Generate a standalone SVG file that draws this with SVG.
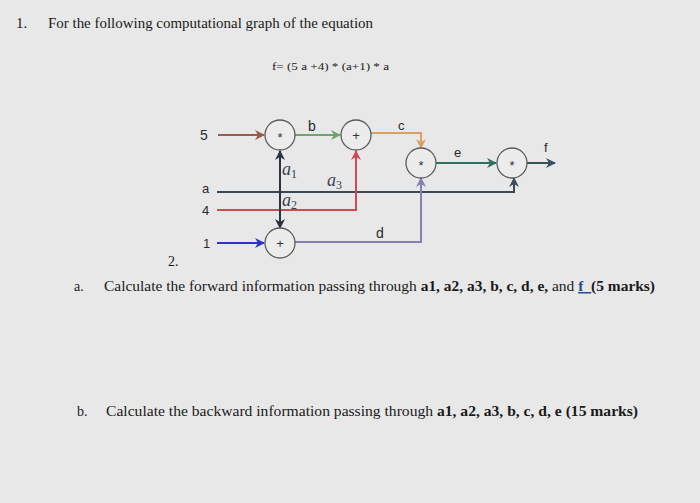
<svg xmlns="http://www.w3.org/2000/svg" width="700" height="503" viewBox="0 0 700 503">
<defs>
<style>
.serif{font-family:"Liberation Serif","Times New Roman",serif;fill:#1a1a1a}
.sans{font-family:"Liberation Sans",Arial,sans-serif;fill:#2a2a2a}
.node{fill:#ececec;stroke:#5a5a5a;stroke-width:1.3}
.op{font-family:"Liberation Sans",Arial,sans-serif;font-size:13px;fill:#333;text-anchor:middle}
.ln{fill:none;stroke-width:2}
.math{font-family:"Liberation Serif","Times New Roman",serif;font-style:italic;font-size:18px;fill:#3a4150}
.sub{font-family:"Liberation Serif","Times New Roman",serif;font-style:normal;font-size:12px;fill:#3a4150}
</style>
<marker id="mBrown" viewBox="0 0 10 10" refX="9" refY="5" markerWidth="10" markerHeight="10" markerUnits="userSpaceOnUse" orient="auto"><path d="M0,0 L10,5 L0,10 L3,5 z" fill="#9a5a4a"/></marker>
<marker id="mGreen" viewBox="0 0 10 10" refX="9" refY="5" markerWidth="10" markerHeight="10" markerUnits="userSpaceOnUse" orient="auto"><path d="M0,0 L10,5 L0,10 L3,5 z" fill="#6aa86a"/></marker>
<marker id="mOrange" viewBox="0 0 10 10" refX="9" refY="5" markerWidth="10" markerHeight="10" markerUnits="userSpaceOnUse" orient="auto"><path d="M0,0 L10,5 L0,10 L3,5 z" fill="#d9a066"/></marker>
<marker id="mTeal" viewBox="0 0 10 10" refX="9" refY="5" markerWidth="10" markerHeight="10" markerUnits="userSpaceOnUse" orient="auto"><path d="M0,0 L10,5 L0,10 L3,5 z" fill="#2f6f60"/></marker>
<marker id="mSlate" viewBox="0 0 10 10" refX="9" refY="5" markerWidth="10" markerHeight="10" markerUnits="userSpaceOnUse" orient="auto"><path d="M0,0 L10,5 L0,10 L3,5 z" fill="#34505e"/></marker>
<marker id="mRed" viewBox="0 0 10 10" refX="9" refY="5" markerWidth="10" markerHeight="10" markerUnits="userSpaceOnUse" orient="auto"><path d="M0,0 L10,5 L0,10 L3,5 z" fill="#d04a55"/></marker>
<marker id="mBlue" viewBox="0 0 10 10" refX="9" refY="5" markerWidth="10" markerHeight="10" markerUnits="userSpaceOnUse" orient="auto"><path d="M0,0 L10,5 L0,10 L3,5 z" fill="#2a35c8"/></marker>
<marker id="mPurple" viewBox="0 0 10 10" refX="9" refY="5" markerWidth="10" markerHeight="10" markerUnits="userSpaceOnUse" orient="auto"><path d="M0,0 L10,5 L0,10 L3,5 z" fill="#8a80b0"/></marker>
<marker id="mDark" viewBox="0 0 10 10" refX="9" refY="5" markerWidth="10" markerHeight="10" markerUnits="userSpaceOnUse" orient="auto-start-reverse"><path d="M0,0 L10,5 L0,10 L3,5 z" fill="#2a3440"/></marker>
</defs>
<rect width="700" height="503" fill="#e8e8e8"/>

<text class="serif" x="16" y="28" font-size="15">1.</text>
<text class="serif" x="48" y="28" font-size="15" textLength="325" lengthAdjust="spacingAndGlyphs">For the following computational graph of the equation</text>
<text class="serif" x="272" y="70" font-size="10" textLength="117" lengthAdjust="spacingAndGlyphs">f= (5 a +4) * (a+1) * a</text>

<g id="connectors">
<line class="ln" x1="218" y1="135" x2="264" y2="135" stroke="#9a5a4a" marker-end="url(#mBrown)"/>
<line class="ln" x1="295" y1="135" x2="340" y2="135" stroke="#6aa86a" marker-end="url(#mGreen)"/>
<path class="ln" d="M371,133 H421 V148" stroke="#d9a066" marker-end="url(#mOrange)"/>
<line class="ln" x1="436" y1="163" x2="496" y2="163" stroke="#2f6f60" marker-end="url(#mTeal)"/>
<line class="ln" x1="527" y1="163" x2="555" y2="163" stroke="#34505e" marker-end="url(#mSlate)"/>
<path class="ln" d="M217,192 H514 V178" stroke="#3a4858" marker-end="url(#mSlate)"/>
<path class="ln" d="M217,210 H356 V151" stroke="#d04a55" marker-end="url(#mRed)"/>
<line class="ln" x1="217" y1="243" x2="264" y2="243" stroke="#2a35c8" marker-end="url(#mBlue)"/>
<path class="ln" d="M295,242 H421 V178" stroke="#8a80b0" marker-end="url(#mPurple)"/>
<line class="ln" x1="280" y1="151" x2="280" y2="228" stroke="#2a3440" marker-start="url(#mDark)" marker-end="url(#mDark)"/>
</g>

<g id="labels">
<text class="sans" x="200" y="140" font-size="14">5</text>
<text class="sans" x="202" y="193" font-size="13">a</text>
<text class="sans" x="202" y="215" font-size="13">4</text>
<text class="sans" x="203" y="248" font-size="13">1</text>
<text class="sans" x="308" y="131" font-size="14">b</text>
<text class="sans" x="398" y="130" font-size="13">c</text>
<text class="sans" x="454" y="157" font-size="13">e</text>
<text class="sans" x="544" y="152" font-size="13">f</text>
<text class="sans" x="376" y="238" font-size="14">d</text>
<text class="math" x="282" y="175">a<tspan class="sub" dy="3">1</tspan></text>
<text class="math" x="282" y="206">a<tspan class="sub" dy="3">2</tspan></text>
<text class="math" x="327" y="186">a<tspan class="sub" dy="3">3</tspan></text>
</g>

<g id="node-mul1"><circle class="node" cx="280" cy="135" r="15"/><text class="op" x="280" y="142">*</text></g>
<g id="node-add1"><circle class="node" cx="356" cy="135" r="15"/><text class="op" x="356" y="140">+</text></g>
<g id="node-add2"><circle class="node" cx="280" cy="243" r="15"/><text class="op" x="280" y="248">+</text></g>
<g id="node-mul2"><circle class="node" cx="421" cy="163" r="15"/><text class="op" x="421" y="170">*</text></g>
<g id="node-mul3"><circle class="node" cx="512" cy="163" r="15"/><text class="op" x="512" y="170">*</text></g>

<text class="serif" x="168" y="266" font-size="14">2.</text>
<text class="serif" x="74" y="291" font-size="14">a.</text>
<text class="serif" x="104" y="291" font-size="15" textLength="551" lengthAdjust="spacingAndGlyphs">Calculate the forward information passing through <tspan font-weight="bold">a1, a2, a3, b, c, d, e,</tspan> and <tspan font-weight="bold" fill="#2a4a8a" text-decoration="underline">f_</tspan><tspan font-weight="bold">(5 marks)</tspan></text>
<text class="serif" x="77" y="416" font-size="14">b.</text>
<text class="serif" x="106" y="416" font-size="15" textLength="532" lengthAdjust="spacingAndGlyphs">Calculate the backward information passing through <tspan font-weight="bold">a1, a2, a3, b, c, d, e</tspan>  <tspan font-weight="bold">(15 marks)</tspan></text>
</svg>
